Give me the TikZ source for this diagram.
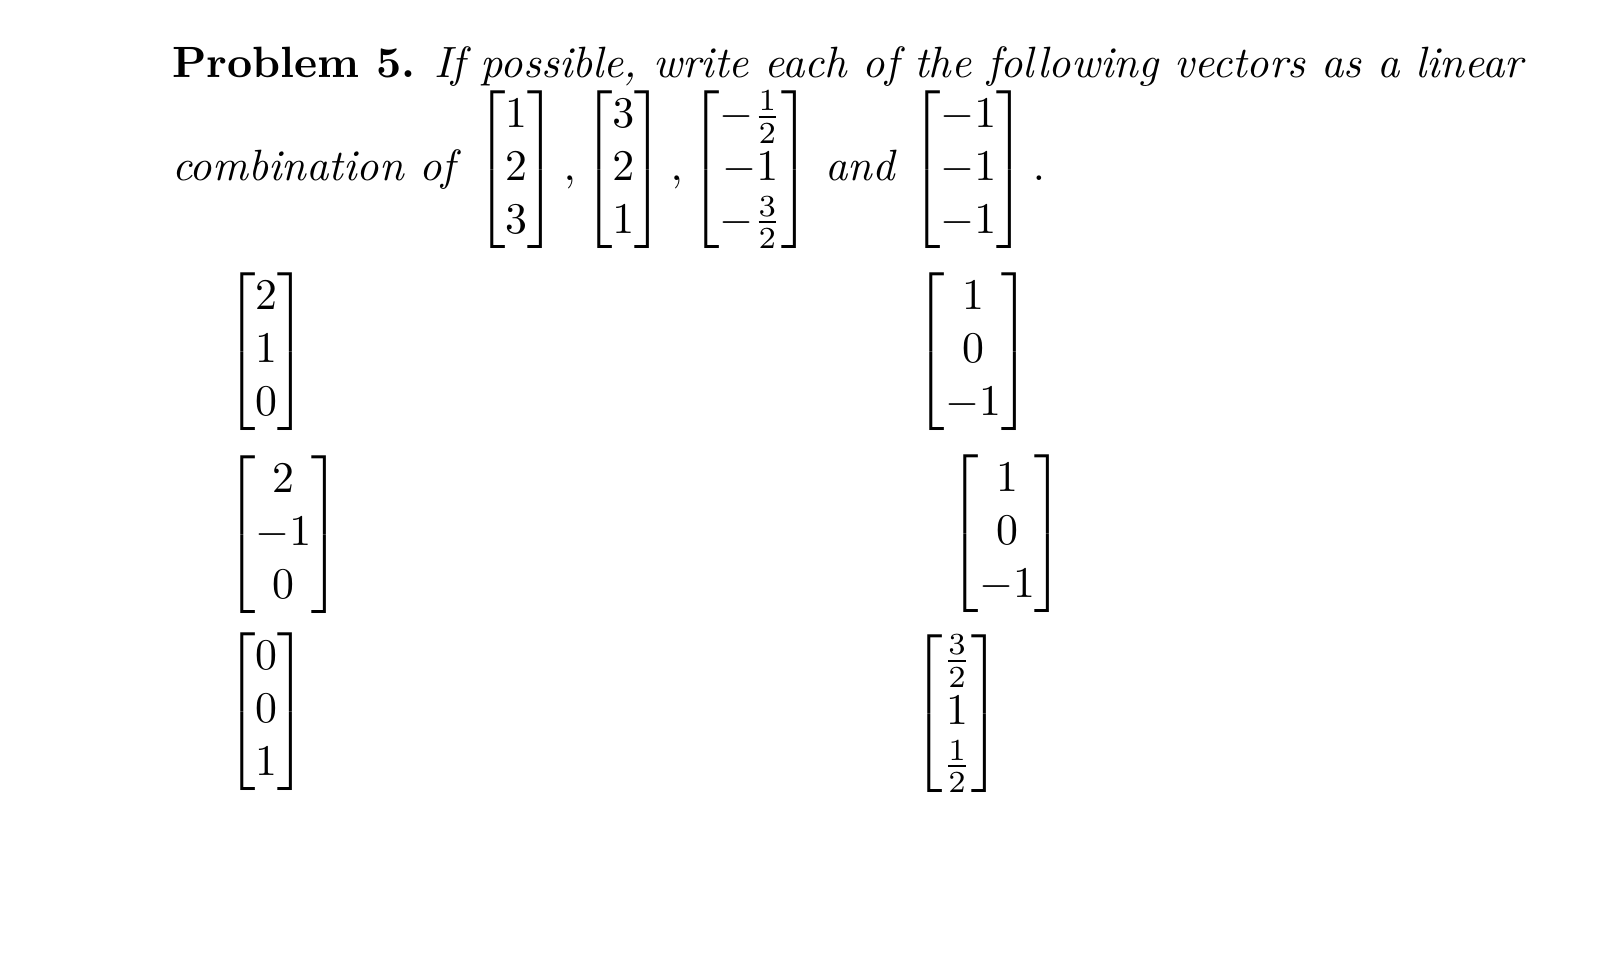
\documentclass[tikz,border=0pt]{standalone}
\usepackage{amsmath}
\begin{document}
\begin{tikzpicture}[x=0.2284pt,y=-0.2284pt,every node/.style={inner sep=0pt,outer sep=0pt}]
\useasboundingbox (0,0) rectangle (1608,964);
\node[anchor=base west] (t1) at (172,77) {\textbf{Problem 5.} \textit{If possible, write each of the following vectors as a linear}};
\node[anchor=west] (t2) at (172,170) {\textit{combination of} $\begin{bmatrix}1\\2\\3\end{bmatrix},\begin{bmatrix}3\\2\\1\end{bmatrix},\begin{bmatrix}-\frac12\\-1\\-\frac32\end{bmatrix}$ \textit{and} $\begin{bmatrix}-1\\-1\\-1\end{bmatrix}.$};
\node[anchor=west] (a) at (226,352) {$\begin{bmatrix}2\\1\\0\end{bmatrix}$};
\node[anchor=west] (b) at (226,535) {$\begin{bmatrix}\;2\;\\-1\\0\end{bmatrix}$};
\node[anchor=west] (c) at (226,712) {$\begin{bmatrix}0\\0\\1\end{bmatrix}$};
\node (d) at (973,352) {$\begin{bmatrix}\;1\;\\0\\-1\end{bmatrix}$};
\node (e) at (1007,534) {$\begin{bmatrix}\;1\;\\0\\-1\end{bmatrix}$};
\node (f) at (957,714) {$\begin{bmatrix}\frac32\\1\\\frac12\end{bmatrix}$};
\end{tikzpicture}
\end{document}
